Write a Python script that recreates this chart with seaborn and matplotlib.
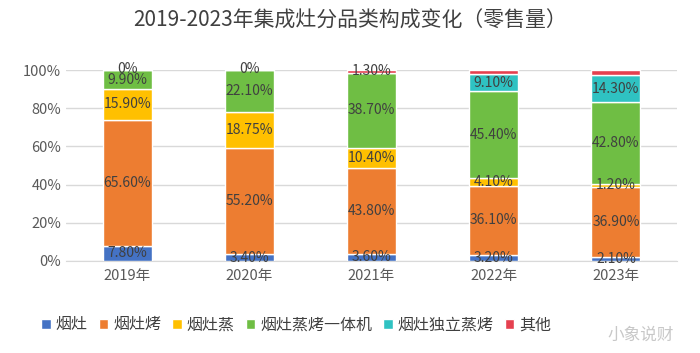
import pandas as pd
import seaborn as sns
import matplotlib.pyplot as plt

# 2019-2023 集成灶分品类零售量占比 (%)
years = ['2019年', '2020年', '2021年', '2022年', '2023年']
series = ['烟灶', '烟灶烤', '烟灶蒸', '烟灶蒸烤一体机', '烟灶独立蒸烤', '其他']
yanzao = [7.80, 3.40, 3.60, 3.20, 2.10]
yanzao_kao = [65.60, 55.20, 43.80, 36.10, 36.90]
yanzao_zheng = [15.90, 18.75, 10.40, 4.10, 1.20]
yitiji = [9.90, 22.10, 38.70, 45.40, 42.80]
duli = [0.0, 0.0, 0.0, 9.10, 14.30]
qita = [0.0, 0.0, 1.30, 2.10, 2.70]

# labels printed on the chart (None = no label)
labels = {
    '烟灶': ['7.80%', '3.40%', '3.60%', '3.20%', '2.10%'],
    '烟灶烤': ['65.60%', '55.20%', '43.80%', '36.10%', '36.90%'],
    '烟灶蒸': ['15.90%', '18.75%', '10.40%', '4.10%', '1.20%'],
    '烟灶蒸烤一体机': ['9.90%', '22.10%', '38.70%', '45.40%', '42.80%'],
    '烟灶独立蒸烤': [None, None, None, '9.10%', '14.30%'],
    '其他': ['0%', '0%', '1.30%', None, None],
}
colors = ['#4472C4', '#ED7D31', '#FFC000', '#6FBE44', '#2FC2C2', '#E5404F']

df = pd.DataFrame([yanzao, yanzao_kao, yanzao_zheng, yitiji, duli, qita],
                  index=series, columns=years)
# 100% stacked, like the Excel chart
df = df / df.sum(axis=0) * 100

sns.set_style('white')
plt.rcParams['font.family'] = ['Noto Sans CJK SC', 'DejaVu Sans']

fig = plt.figure(figsize=(7, 3.53), dpi=100)
ax = fig.add_axes([66 / 700, 92 / 353, 611 / 700, 191 / 353])

bottom = pd.Series(0.0, index=years)
for name, color in zip(series, colors):
    vals = df.loc[name]
    sns.barplot(x=years, y=vals.values, bottom=bottom.values, color=color,
                width=0.4, ax=ax, label=name, saturation=1, zorder=3)
    for i, yr in enumerate(years):
        txt = labels[name][i]
        if txt is None:
            continue
        ypos = bottom[yr] + vals[yr] / 2
        if txt == '0%':
            ypos = 100.5
        ax.text(i, ypos, txt, ha='center', va='center', fontsize=10,
                color='#404040', zorder=5)
    bottom = bottom + vals

handles, lbls = ax.get_legend_handles_labels()
if ax.get_legend() is not None:
    ax.get_legend().remove()

ax.set_ylim(0, 100)
ax.set_xlim(-0.5, 4.5)
ax.set_yticks(range(0, 101, 20))
ax.set_yticklabels([f'{v}%' for v in range(0, 101, 20)])
ax.yaxis.grid(True, color='#D9D9D9', linewidth=1, zorder=0)
ax.tick_params(axis='both', labelsize=10.5, labelcolor='#595959', length=0)
ax.tick_params(axis='x', pad=6)
for s in ax.spines.values():
    s.set_visible(False)
ax.spines['bottom'].set_visible(True)
ax.spines['bottom'].set_color('#D9D9D9')
ax.set_xlabel('')
ax.set_ylabel('')

fig.text(0.5, 0.94, '2019-2023年集成灶分品类构成变化（零售量）', ha='center',
         va='center', fontsize=15, color='#404040')

fig.legend(handles, lbls, loc='center', bbox_to_anchor=(0.423, 0.08), ncol=6,
           frameon=False, fontsize=11.5, handlelength=0.6, handleheight=0.6,
           handletextpad=0.3, columnspacing=0.7, labelcolor='#404040')

fig.text(0.915, 0.05, '小象说财', ha='center', va='center', fontsize=12,
         color='#C8C8C8')

fig.savefig('out.png', dpi=100)
